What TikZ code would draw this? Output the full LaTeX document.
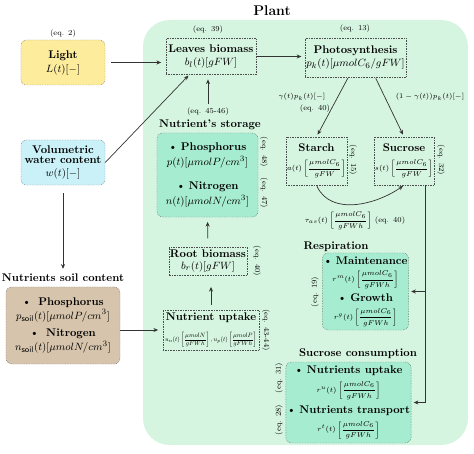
\documentclass[tikz,border=0pt]{standalone}
\usepackage{amsmath}
\usepackage{graphicx}
\usetikzlibrary{arrows.meta}

\definecolor{plantbg}{RGB}{214,245,224}
\definecolor{storefill}{RGB}{166,236,208}
\definecolor{lightfill}{RGB}{252,236,156}
\definecolor{waterfill}{RGB}{201,241,247}
\definecolor{soilfill}{RGB}{214,197,172}

\newcommand{\unitfrac}[2]{\left[\dfrac{#1}{#2}\right]}
\newcommand{\fsmall}{\fontsize{6}{7}\selectfont}

\tikzset{
    box/.style={draw=black!70, densely dotted, align=center, inner sep=1pt},
    listbox/.style={box, rounded corners=5pt, fill=storefill},
    eq/.style={font=\fontsize{6.5}{8}\selectfont},
    title/.style={font=\fontsize{9.5}{11}\selectfont\bfseries},
    arr/.style={-{Stealth[length=4pt,width=3.5pt]}, black!80, semithick},
}

\begin{document}
\begin{tikzpicture}[x=0.03cm, y=-0.03cm, font=\fontsize{9.5}{11}\selectfont]
    \useasboundingbox (0,0) rectangle (474,454);
    % plant area
    \fill[plantbg, rounded corners=0.8cm] (143,20) rectangle (468,445);
    \node[font=\large\bfseries] (plant) at (272,11) {Plant};

    % outside
    \node[box, fill=lightfill, rounded corners=4pt, minimum width=2.52cm, minimum height=1.35cm] (light) at (63,62.5) {\textbf{Light}\\[1pt] $L(t)[-]$};
    \node[eq] (lighteq) at (63,34) {(eq. 2)};
    \node[box, fill=waterfill, rounded corners=4pt, minimum width=2.52cm, minimum height=1.35cm] (water) at (63,162.5) {\textbf{Volumetric}\\[-2pt] \textbf{water content}\\ $w(t)[-]$};
    \node[title] (soiltitle) at (63,278) {Nutrients soil content};
    \node[box, fill=soilfill, rounded corners=5pt, minimum width=3.42cm, minimum height=2.31cm] (soil) at (63,325.5) {\textbullet~~\textbf{Phosphorus}\\[1pt] $p_{\mathsf{soil}}(t)[\mu molP/cm^3]$\\[4pt] \textbullet~~\textbf{Nitrogen}\\[1pt] $n_{\mathsf{soil}}(t)[\mu molN/cm^3]$};

    % plant nodes
    \node[box, minimum width=2.7cm, minimum height=1.08cm] (leaves) at (211,56.5) {\textbf{Leaves biomass}\\ $b_l(t)[gFW]$};
    \node[eq] (leaveseq) at (208,30) {(eq. 39)};
    \node[box, minimum width=2.85cm, minimum height=1.17cm] (photo) at (355.5,57.5) {\textbf{Photosynthesis}\\ $p_k(t)[\mu molC_6/gFW]$};
    \node[eq] (photoeq) at (355,29) {(eq. 13)};
    \node[box, minimum width=1.77cm, minimum height=1.44cm] (starch) at (316.5,161) {\textbf{Starch}\\[5pt] {\fsmall $a(t)\unitfrac{\mu molC_6}{gFW}$}};
    \node[eq, rotate=-90] (starcheq) at (353,160) {(eq. 15)};
    \node[box, minimum width=1.8cm, minimum height=1.44cm] (sucrose) at (404,161) {\textbf{Sucrose}\\[5pt] {\fsmall $s(t)\unitfrac{\mu molC_6}{gFW}$}};
    \node[eq, rotate=-90] (sucroseeq) at (441,160) {(eq. 32)};

    \node[eq] (storeeq) at (208,112) {(eq. 45-46)};
    \node[title] (storetitle) at (210,125) {Nutrient's storage};
    \node[listbox, minimum width=3.03cm, minimum height=2.52cm] (store) at (207.5,175) {\textbullet~\textbf{Phosphorus}\\[2pt] $p(t)[\mu molP/cm^3]$\\[9pt] \textbullet~\textbf{Nitrogen}\\[2pt] $n(t)[\mu molN/cm^3]$};
    \node[eq, rotate=-90] (pstoreeq) at (264,152) {(eq. 48)};
    \node[eq, rotate=-90] (nstoreeq) at (264,193) {(eq. 47)};

    \node[box, minimum width=2.34cm, minimum height=0.84cm] (root) at (208,261) {\textbf{Root biomass}\\[-1pt] $b_r(t)[gFW]$};
    \node[eq, rotate=-90] (rooteq) at (257,261) {(eq. 40)};
    \node[box, minimum width=2.88cm, minimum height=1.2cm] (uptake) at (211,330) {\textbf{Nutrient uptake}\\[7pt] \resizebox{2.75cm}{!}{$u_n(t)\unitfrac{\mu molN}{gFWh}, u_p(t)\unitfrac{\mu molP}{gFWh}$}};
    \node[eq, rotate=-90] (uptakeeq) at (266,330) {(eq. 43-44)};

    \node[title] (resptitle) at (336,247) {Respiration};
    \node[listbox, minimum width=2.49cm, minimum height=2.31cm] (resp) at (365.5,291.5) {\textbullet~\textbf{Maintenance}\\[4pt] {\fsmall $r^m(t)\unitfrac{\mu molC_6}{gFWh}$}\\[3pt] \textbullet~\textbf{Growth}\\[4pt] {\fsmall $r^g(t)\unitfrac{\mu molC_6}{gFWh}$}};
    \node[eq, rotate=90] (respeq) at (315,292) {(eq. 19)};

    \node[title] (constitle) at (358,354) {Sucrose consumption};
    \node[listbox, minimum width=3.57cm, minimum height=2.43cm] (cons) at (348.5,402.5) {\textbullet~\textbf{Nutrients uptake}\\[5pt] {\fsmall $r^u(t)\unitfrac{\mu molC_6}{gFWh}$}\\[4pt] \textbullet~\textbf{Nutrients transport}\\[5pt] {\fsmall $r^t(t)\unitfrac{\mu molC_6}{gFWh}$}};
    \node[eq, rotate=90] (upconseq) at (279,378) {(eq. 31)};
    \node[eq, rotate=90] (trconseq) at (279,420) {(eq. 28)};

    % edge labels
    \node[eq] (gammalbl) at (302,97) {$\gamma(t)p_k(t)[-]$};
    \node[eq] (gammaeq) at (315,109) {(eq. 40)};
    \node[eq] (onemlbl) at (430,97) {$(1-\gamma(t))p_k(t)[-]$};
    \node[eq] (taulbl) at (355,221) {{\fsmall $\tau_{as}(t)\unitfrac{\mu molC_6}{gFWh}$} (eq. 40)};

    % connectors
    \draw[arr, shorten <=5pt, shorten >=4pt] (light.east) -- (light.east -| leaves.west);
    \draw[arr, shorten >=1pt] (water.east) -- (leaves.220);
    \draw[arr, shorten <=7pt, shorten >=1pt] (water.south) -- (soiltitle.north);
    \draw[arr, shorten >=4pt] (uptake.west -| soil.east) -- (uptake.west);
    \draw[arr, shorten <=1pt, shorten >=3pt] (leaves.east) -- (leaves.east -| photo.west);
    \draw[arr, shorten <=1pt, shorten >=2pt] (photo.250) -- (starch.north);
    \draw[arr, shorten <=1pt, shorten >=2pt] (photo.-45) -- (sucrose.north);
    \draw[arr, shorten <=1pt, shorten >=1pt] (starch.south) to[out=-65, in=-145] (sucrose.south);
    \draw[arr, shorten >=4pt] (storeeq.north) -- (storeeq.north |- leaves.south);
    \draw[arr, shorten <=7pt, shorten >=4pt] (root.north) -- (store.south);
    \draw[arr, shorten <=4pt, shorten >=10pt] (uptake.north) -- (uptake.north |- root.south);
    \coordinate (trunk) at (425,185);
    \draw[arr, shorten >=2pt] (trunk) |- (cons.east);
    \draw[arr, shorten >=2pt] (trunk |- resp.east) -- (resp.east);
\end{tikzpicture}
\end{document}
